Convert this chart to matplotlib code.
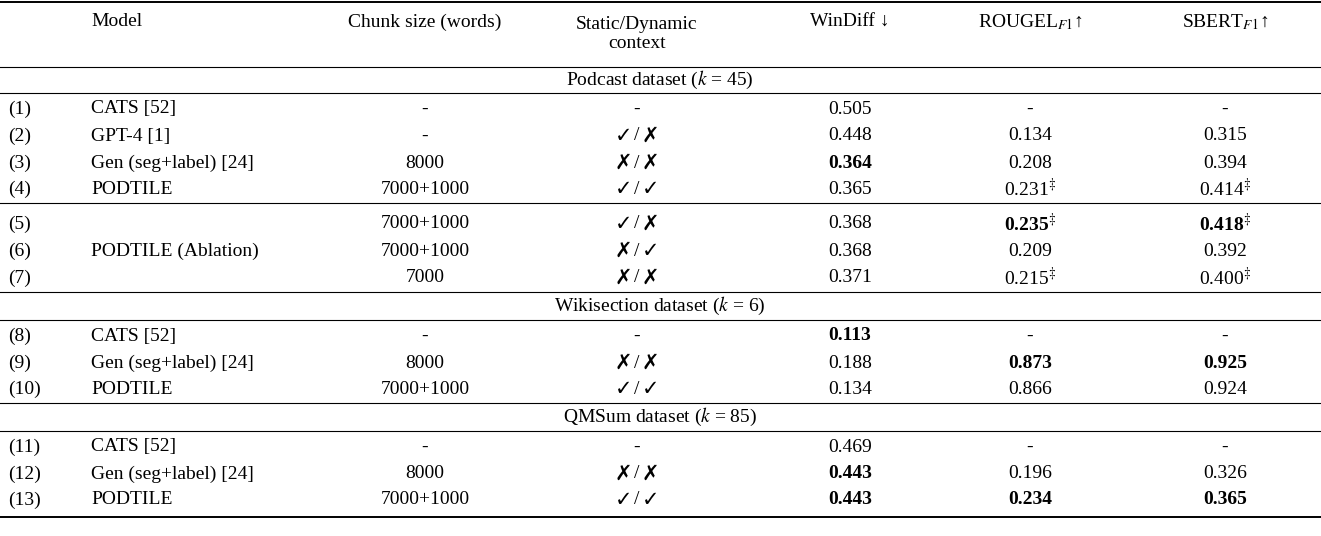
import matplotlib; matplotlib.use('Agg')
import matplotlib.pyplot as plt

plt.rcParams['font.family'] = ['Liberation Serif', 'DejaVu Serif', 'DejaVu Sans']
plt.rcParams['mathtext.fontset'] = 'stix'

headers = ['Model', 'Chunk size (words)', 'Static/Dynamic\ncontext', 'WinDiff ↓',
           r'ROUGEL$_{F1}$↑', r'SBERT$_{F1}$↑']
sections = [r'Podcast dataset ($k$ = 45)', r'Wikisection dataset ($k$ = 6)', r'QMSum dataset ($k$ = 85)']
row_ids = ['(%d)' % i for i in range(1, 14)]
models = ['CATS [52]', 'GPT-4 [1]', 'Gen (seg+label) [24]', 'PODTILE', '', 'PODTILE (Ablation)', '',
          'CATS [52]', 'Gen (seg+label) [24]', 'PODTILE',
          'CATS [52]', 'Gen (seg+label) [24]', 'PODTILE']
chunks = ['-', '-', '8000', '7000+1000', '7000+1000', '7000+1000', '7000',
          '-', '8000', '7000+1000', '-', '8000', '7000+1000']
context = ['-', '✓/✗', '✗/✗', '✓/✓', '✓/✗', '✗/✓', '✗/✗',
           '-', '✗/✗', '✓/✓', '-', '✗/✗', '✓/✓']
windiff = ['0.505', '0.448', '0.364', '0.365', '0.368', '0.368', '0.371',
           '0.113', '0.188', '0.134', '0.469', '0.443', '0.443']
rouge = ['-', '0.134', '0.208', '0.231', '0.235', '0.209', '0.215',
         '-', '0.873', '0.866', '-', '0.196', '0.234']
sbert = ['-', '0.315', '0.394', '0.414', '0.418', '0.392', '0.400',
         '-', '0.925', '0.924', '-', '0.326', '0.365']
# (row, col) flags: col 0 windiff, 1 rouge, 2 sbert
bold = {(2, 0), (4, 1), (4, 2), (7, 0), (8, 1), (8, 2), (11, 0), (12, 0), (12, 1), (12, 2)}
dagger = {(3, 1), (3, 2), (4, 1), (4, 2), (6, 1), (6, 2)}

row_y = [109, 136, 163, 189, 224, 251, 278, 336, 363, 389, 447, 474, 500]
sec_y = [80, 306, 417]
col_x = [425, 637, 850, 1030, 1225]
fs = 14

fig = plt.figure(figsize=(13.21, 5.36), dpi=100)
ax = fig.add_axes([0, 0, 1, 1])
ax.set_xlim(0, 1321); ax.set_ylim(536, 0); ax.axis('off')

def hline(y, lw=0.8):
    ax.plot([0, 1321], [y, y], color='black', lw=lw)

hline(2, 1.4); hline(67); hline(93); hline(203); hline(292); hline(320); hline(403); hline(431); hline(517, 1.4)

ax.text(91, 22, headers[0], fontsize=fs, va='center', ha='left')
for x, h in zip(col_x, headers[1:]):
    ax.text(x, 22 if '\n' not in h else 34, h, fontsize=fs, va='center', ha='center', linespacing=1.2)
for y, s in zip(sec_y, sections):
    ax.text(660, y, s, fontsize=fs, va='center', ha='center')

for i, y in enumerate(row_y):
    ax.text(8, y, row_ids[i], fontsize=fs, va='center', ha='left')
    ax.text(91, y, models[i], fontsize=fs, va='center', ha='left')
    ax.text(col_x[0], y, chunks[i], fontsize=fs, va='center', ha='center')
    c = context[i]
    if c == '-':
        ax.text(col_x[1], y, c, fontsize=fs, va='center', ha='center')
    else:
        ax.text(col_x[1], y, '/', fontsize=fs, va='center', ha='center')
        ax.text(col_x[1] - 5, y, c[0], fontsize=fs + 1, va='center', ha='right',
                family=['DejaVu Sans'], fontweight='bold')
        ax.text(col_x[1] + 5, y, c[2], fontsize=fs + 1, va='center', ha='left',
                family=['DejaVu Sans'], fontweight='bold')
    for j, vals in enumerate([windiff, rouge, sbert]):
        v = vals[i]
        w = 'bold' if (i, j) in bold else 'normal'
        if (i, j) in dagger:
            v = v + r'$^{\ddagger}$'
        ax.text(col_x[2 + j], y, v, fontsize=fs, va='center', ha='center', fontweight=w)

fig.savefig('out.png', dpi=100)
